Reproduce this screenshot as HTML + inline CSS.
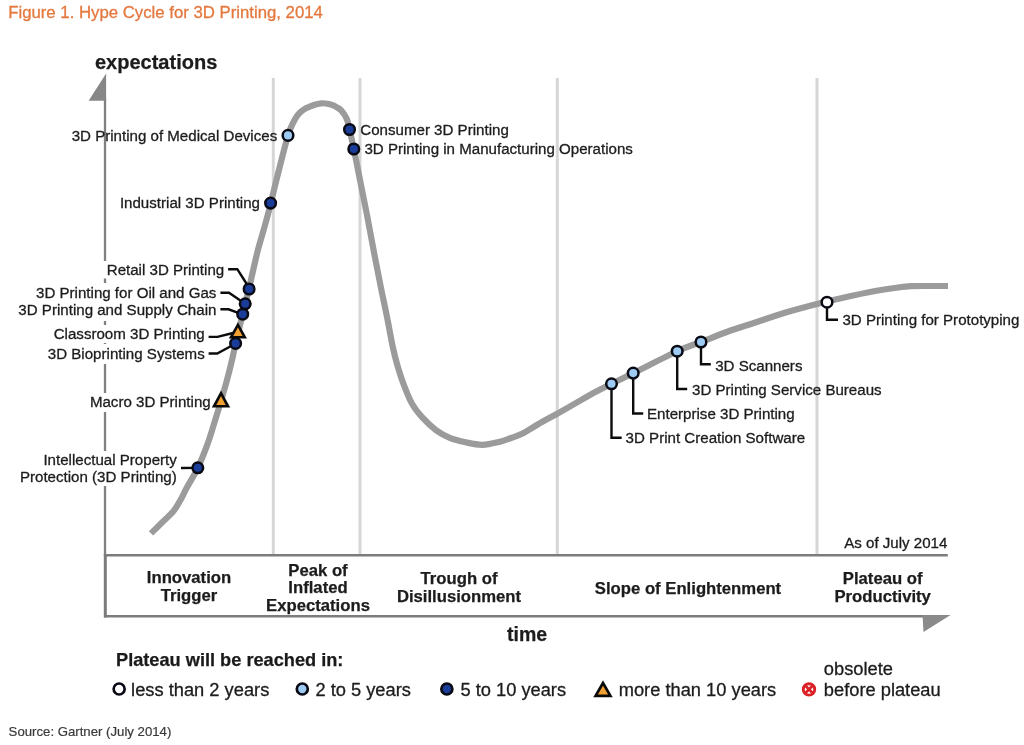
<!DOCTYPE html>
<html lang="en"><head><meta charset="utf-8"><title>Hype Cycle for 3D Printing, 2014</title>
<style>
html,body{margin:0;padding:0;background:#fff;}
body{width:1024px;height:745px;overflow:hidden;font-family:"Liberation Sans", Arial, sans-serif;}
svg{display:block;filter:blur(0.4px);}
text{font-family:"Liberation Sans", Arial, sans-serif;}
.lb{font-size:15.1px;fill:#1c1c1c;stroke:#1c1c1c;stroke-width:0.3px;}
.ph{font-size:16.7px;font-weight:bold;fill:#1c1c1c;stroke:#1c1c1c;stroke-width:0.25px;text-anchor:middle;}
.lg{font-size:18.3px;fill:#1c1c1c;stroke:#1c1c1c;stroke-width:0.3px;}
.cn{fill:none;stroke:#0c0c0c;stroke-width:2.4;}
.mk{stroke:#0a0a14;stroke-width:2.3;}
</style></head><body>
<svg width="1024" height="745" viewBox="0 0 1024 745">
<rect width="1024" height="745" fill="#ffffff"/>
<text x="8.2" y="18.3" font-size="16.75" fill="#e5783e" stroke="#e5783e" stroke-width="0.3">Figure 1. Hype Cycle for 3D Printing, 2014</text>
<line x1="273.3" y1="78" x2="273.3" y2="555" stroke="#d6d6d6" stroke-width="3"/>
<line x1="360" y1="78" x2="360" y2="555" stroke="#d6d6d6" stroke-width="3"/>
<line x1="557.3" y1="78" x2="557.3" y2="555" stroke="#d6d6d6" stroke-width="3"/>
<line x1="817" y1="78" x2="817" y2="555" stroke="#d6d6d6" stroke-width="3"/>
<line x1="105" y1="98" x2="105" y2="556" stroke="#808080" stroke-width="2.3"/><line x1="105.3" y1="554" x2="105.3" y2="617.5" stroke="#7c7c7c" stroke-width="3"/>
<polygon points="106.1,73.4 106.1,100.8 88.6,100.8" fill="#878787"/>
<line x1="104" y1="555.2" x2="947.8" y2="555.2" stroke="#7c7c7c" stroke-width="2.6"/>
<line x1="104" y1="616.2" x2="925" y2="616.2" stroke="#7c7c7c" stroke-width="2.6"/>
<polygon points="922.5,615 950.6,615 923.5,632" fill="#8a8a8a"/>
<path d="M151.0 533.4 C152.8 531.6 158.3 526.2 162.0 522.5 C165.7 518.8 170.3 515.0 173.4 511.3 C176.5 507.6 178.2 504.0 180.5 500.0 C182.8 496.0 184.1 492.7 187.0 487.3 C189.9 481.9 194.4 475.1 197.8 467.9 C201.2 460.7 204.6 452.1 207.6 443.9 C210.6 435.7 213.3 426.1 215.6 418.8 C217.9 411.5 219.4 406.5 221.3 400.0 C223.2 393.5 225.2 386.7 227.0 380.0 C228.8 373.3 230.6 366.1 232.0 360.0 C233.4 353.9 234.6 348.2 235.7 343.4 C236.8 338.6 237.3 335.9 238.5 331.0 C239.7 326.1 241.6 318.9 242.7 314.3 C243.8 309.7 244.2 307.8 245.3 303.5 C246.4 299.2 247.7 294.3 249.0 288.7 C250.3 283.1 251.7 276.4 253.2 270.0 C254.7 263.6 256.1 257.0 257.9 250.0 C259.7 243.0 262.0 235.8 264.2 228.0 C266.4 220.2 269.1 210.2 270.9 203.0 C272.7 195.8 273.6 191.3 275.2 185.0 C276.8 178.7 278.1 173.3 280.2 165.0 C282.3 156.7 286.1 141.9 288.0 135.4 C289.9 128.9 290.4 128.8 291.6 126.0 C292.8 123.2 293.9 121.0 295.2 118.8 C296.5 116.6 298.1 114.5 299.6 112.9 C301.1 111.3 302.4 110.3 304.0 109.3 C305.6 108.3 307.4 107.6 309.3 106.8 C311.2 106.0 313.4 105.0 315.5 104.4 C317.6 103.8 319.7 103.4 321.7 103.3 C323.7 103.2 325.7 103.4 327.5 103.7 C329.3 104.0 331.1 104.6 332.7 105.2 C334.3 105.8 335.8 106.7 337.3 107.6 C338.8 108.5 339.9 108.9 341.5 110.8 C343.1 112.7 345.5 115.9 346.8 119.0 C348.1 122.1 348.3 124.5 349.5 129.5 C350.7 134.5 352.1 140.6 353.8 149.0 C355.6 157.4 357.8 169.0 360.0 180.0 C362.2 191.0 364.6 202.5 367.0 215.0 C369.4 227.5 372.1 242.5 374.5 255.0 C376.9 267.5 379.3 279.6 381.4 290.0 C383.5 300.4 385.2 307.9 387.1 317.4 C389.0 326.9 391.1 339.0 392.8 347.0 C394.5 355.0 395.5 358.8 397.4 365.3 C399.3 371.8 401.7 379.4 404.2 385.8 C406.7 392.2 409.1 398.7 412.2 404.0 C415.2 409.3 418.5 413.3 422.5 417.7 C426.5 422.1 431.6 426.8 436.1 430.2 C440.7 433.6 444.9 435.8 449.8 437.8 C454.8 439.8 460.4 441.1 465.8 442.3 C471.2 443.5 476.8 444.9 482.5 444.8 C488.2 444.7 495.2 442.8 500.0 441.7 C504.8 440.6 507.3 439.3 511.0 438.0 C514.7 436.7 517.5 436.1 522.0 433.8 C526.5 431.6 531.8 427.9 537.7 424.5 C543.6 421.1 550.7 417.3 557.2 413.7 C563.7 410.1 570.2 406.3 576.7 402.6 C583.2 398.9 590.5 394.7 596.3 391.6 C602.1 388.5 605.4 386.9 611.5 383.8 C617.6 380.7 622.2 378.5 633.2 373.1 C644.2 367.7 665.9 356.4 677.2 351.2 C688.5 346.0 692.5 345.3 701.0 342.0 C709.5 338.7 719.0 334.8 728.0 331.5 C737.0 328.2 745.0 325.9 755.3 322.5 C765.6 319.1 778.0 314.8 790.0 311.3 C802.0 307.8 813.9 304.7 827.2 301.5 C840.5 298.3 858.2 294.3 870.0 292.0 C881.8 289.7 891.1 288.5 898.0 287.5 C904.9 286.5 906.2 286.4 911.5 286.2 C916.8 285.9 923.9 286.0 930.0 286.0 C936.1 286.0 945.0 286.0 948.0 286.0" fill="none" stroke="#9b9b9b" stroke-width="6.2" stroke-linecap="butt" stroke-linejoin="round"/>
<text x="95" y="69" font-size="20" font-weight="bold" fill="#1c1c1c" stroke="#1c1c1c" stroke-width="0.25">expectations</text>
<text x="507" y="640.7" font-size="19.5" font-weight="bold" fill="#1c1c1c" stroke="#1c1c1c" stroke-width="0.25">time</text>
<text class="ph" x="189" y="583.4">Innovation</text><text class="ph" x="189" y="601.3">Trigger</text>
<text class="ph" x="318" y="575.8">Peak of</text><text class="ph" x="318" y="593.1">Inflated</text><text class="ph" x="318" y="610.5">Expectations</text>
<text class="ph" x="459" y="584.1">Trough of</text><text class="ph" x="459" y="602.1">Disillusionment</text>
<text class="ph" x="688" y="594">Slope of Enlightenment</text>
<text class="ph" x="882.7" y="584">Plateau of</text><text class="ph" x="882.7" y="602.3">Productivity</text>
<text class="lb" x="947.4" y="547.9" text-anchor="end">As of July 2014</text>
<rect x="100" y="261" width="126" height="17.5" fill="#fff"/>
<rect x="30" y="283" width="188" height="38" fill="#fff"/>
<rect x="50" y="325" width="156" height="18" fill="#fff"/>
<rect x="44" y="344" width="162" height="20" fill="#fff"/>
<rect x="86" y="393" width="126" height="19" fill="#fff"/>
<rect x="16" y="451" width="164" height="35" fill="#fff"/>
<path class="cn" d="M228.1 269.2 H237.3 L248 286"/>
<path class="cn" d="M220.4 292.7 H229 L244 303"/>
<path class="cn" d="M220.4 309.3 H228.5 L241 313.8"/>
<path class="cn" d="M208.6 336.9 H217.5 L233 333"/>
<path class="cn" d="M208.6 353.5 H217.2 L233 345"/>
<path class="cn" d="M181 468 L196 467.9"/>
<path class="cn" d="M611.5 384 V437.7 H621.7"/>
<path class="cn" d="M633.2 373 V413.5 H643.2"/>
<path class="cn" d="M677.2 351 V389 H687.2"/>
<path class="cn" d="M701 342 V364.3 H710.8"/>
<path class="cn" d="M827 302 V319.8 H838"/>
<text class="lb" x="277.2" y="141.25" text-anchor="end">3D Printing of Medical Devices</text>
<text class="lb" x="260" y="208.4" text-anchor="end">Industrial 3D Printing</text>
<text class="lb" x="224.2" y="275.2" text-anchor="end">Retail 3D Printing</text>
<text class="lb" x="216.4" y="297.5" text-anchor="end">3D Printing for Oil and Gas</text>
<text class="lb" x="216.4" y="315.1" text-anchor="end">3D Printing and Supply Chain</text>
<text class="lb" x="204.7" y="339" text-anchor="end">Classroom 3D Printing</text>
<text class="lb" x="204.7" y="359" text-anchor="end">3D Bioprinting Systems</text>
<text class="lb" x="210.7" y="406.7" text-anchor="end">Macro 3D Printing</text>
<text class="lb" x="176.8" y="464.8" text-anchor="end">Intellectual Property</text>
<text class="lb" x="176.8" y="481.5" text-anchor="end">Protection (3D Printing)</text>
<text class="lb" x="360.3" y="134.8" text-anchor="start">Consumer 3D Printing</text>
<text class="lb" x="364.4" y="153.75" text-anchor="start">3D Printing in Manufacturing Operations</text>
<text class="lb" x="625.6" y="443.1" text-anchor="start">3D Print Creation Software</text>
<text class="lb" x="647" y="419.4" text-anchor="start">Enterprise 3D Printing</text>
<text class="lb" x="692" y="394.7" text-anchor="start">3D Printing Service Bureaus</text>
<text class="lb" x="715.2" y="370.6" text-anchor="start">3D Scanners</text>
<text class="lb" x="842.4" y="324.5" text-anchor="start">3D Printing for Prototyping</text>
<circle cx="288" cy="135.4" r="5.3" fill="#9dcbf4" stroke="#0a0a14" stroke-width="2.5"/>
<circle cx="270.6" cy="203.1" r="5.3" fill="#1b3d9a" stroke="#0a0a14" stroke-width="2.5"/>
<circle cx="349.5" cy="129.5" r="5.3" fill="#1b3d9a" stroke="#0a0a14" stroke-width="2.5"/>
<circle cx="353.8" cy="149" r="5.3" fill="#1b3d9a" stroke="#0a0a14" stroke-width="2.5"/>
<circle cx="249.1" cy="289" r="5.3" fill="#1b3d9a" stroke="#0a0a14" stroke-width="2.5"/>
<circle cx="245.2" cy="303.8" r="5.3" fill="#1b3d9a" stroke="#0a0a14" stroke-width="2.5"/>
<circle cx="242.7" cy="314.2" r="5.3" fill="#1b3d9a" stroke="#0a0a14" stroke-width="2.5"/>
<circle cx="235.6" cy="343.4" r="5.3" fill="#1b3d9a" stroke="#0a0a14" stroke-width="2.5"/>
<polygon points="237.90,322.20 247.00,338.50 228.80,338.50" fill="#0a0a0a"/>
<polygon points="237.90,327.53 242.57,335.90 233.23,335.90" fill="#f0a030"/>
<polygon points="221.00,390.40 230.20,407.60 211.80,407.60" fill="#0a0a0a"/>
<polygon points="221.00,396.12 225.69,404.90 216.31,404.90" fill="#f0a030"/>
<circle cx="197.8" cy="467.8" r="5.3" fill="#1b3d9a" stroke="#0a0a14" stroke-width="2.5"/>
<circle cx="611.5" cy="383.8" r="5.3" fill="#9dcbf4" stroke="#0a0a14" stroke-width="2.5"/>
<circle cx="633.2" cy="373.1" r="5.3" fill="#9dcbf4" stroke="#0a0a14" stroke-width="2.5"/>
<circle cx="677.2" cy="351.2" r="5.3" fill="#9dcbf4" stroke="#0a0a14" stroke-width="2.5"/>
<circle cx="701" cy="342" r="5.3" fill="#9dcbf4" stroke="#0a0a14" stroke-width="2.5"/>
<circle cx="827" cy="302.2" r="5.3" fill="#ffffff" stroke="#0a0a14" stroke-width="2.5"/>
<text x="116" y="665.8" font-size="18.2" font-weight="bold" stroke="#1c1c1c" stroke-width="0.25" fill="#1a1a1a">Plateau will be reached in:</text>
<circle cx="119.15" cy="689" r="5.5" fill="#ffffff" stroke="#0a0a14" stroke-width="2.7"/>
<text class="lg" x="131.1" y="695.8">less than 2 years</text>
<circle cx="302.3" cy="689" r="5.5" fill="#9dcbf4" stroke="#0a0a14" stroke-width="2.7"/>
<text class="lg" x="315.4" y="695.8">2 to 5 years</text>
<circle cx="446.85" cy="689" r="5.5" fill="#1b3d9a" stroke="#0a0a14" stroke-width="2.7"/>
<text class="lg" x="460.4" y="695.8">5 to 10 years</text>
<polygon points="603.00,680.20 612.75,697.30 593.25,697.30" fill="#0a0a0a"/>
<polygon points="603.00,685.65 608.10,694.60 597.90,694.60" fill="#f0a030"/>
<text class="lg" x="618.7" y="695.7">more than 10 years</text>
<circle cx="809" cy="689.4" r="5.7" fill="#fff" stroke="#dc2227" stroke-width="2.9"/>
<path d="M805.4 685.8 L812.6 693 M812.6 685.8 L805.4 693" stroke="#dc2227" stroke-width="2.7" fill="none"/>
<text class="lg" x="823.8" y="675.3">obsolete</text>
<text class="lg" x="823.8" y="695.6">before plateau</text>
<text x="8.6" y="735.5" font-size="13.2" fill="#3a3a3a" stroke="#3a3a3a" stroke-width="0.2">Source: Gartner (July 2014)</text>
</svg>
</body></html>
